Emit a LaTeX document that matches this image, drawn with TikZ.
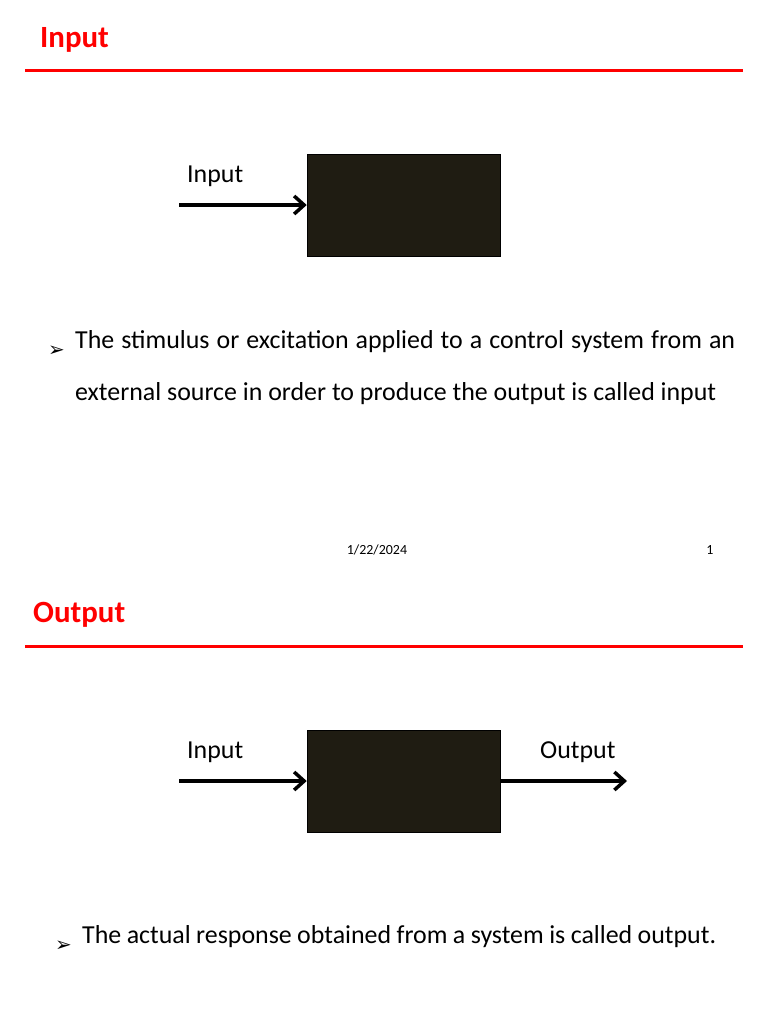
\documentclass[tikz,border=0pt]{standalone}
\usepackage{fontspec}
\setmainfont{Carlito}
\newfontfamily\symf{DejaVu Sans}
\usetikzlibrary{arrows.meta}
\definecolor{boxc}{HTML}{1F1C12}
\definecolor{titred}{HTML}{FF0000}
\tikzset{
  ttl/.style={anchor=base west,text=titred,font=\fontsize{31}{36}\selectfont\bfseries,inner sep=0},
  rule/.style={titred,line width=3bp},
  sysbox/.style={fill=boxc,draw=black,line width=0.5bp,minimum width=193bp,minimum height=102bp,inner sep=0},
  sig/.style={line width=3.5bp,-{Straight Barb[length=10bp,width=18bp,line width=3.5bp]}},
  lbl/.style={anchor=base west,font=\fontsize{26}{30}\selectfont,inner sep=0},
  body/.style={anchor=north west,inner sep=0,align=justify,font=\fontsize{26}{53}\selectfont},
  bul/.style={anchor=base west,inner sep=0,font=\symf\fontsize{20}{24}\selectfont},
  foot/.style={anchor=base,inner sep=0,font=\fontsize{14}{16}\selectfont}
}
\begin{document}
\begin{tikzpicture}[x=1bp,y=-1bp]
\useasboundingbox[fill=white] (0,0) rectangle (768,1024);
% slide 1
\node[ttl] (t1) at (40,47) {Input};
\coordinate (r1a) at (25,70); \coordinate (r1b) at (743,70);
\draw[rule] (r1a) -- (r1b);
\node[sysbox] (b1) at (403.5,205) {};
\coordinate (i1) at (179,205);
\draw[sig] (i1) -- (b1.west);
\node[lbl] (li1) at (187,182) {Input};
\node[bul] (bu1) at (48,356) {➢};
\node[body,text width=660bp] (tx1) at (75,330) {The stimulus or excitation applied to a control system from an external source in order to produce the output is called input\par};
\node[foot] (d1) at (377,554) {1/22/2024};
\node[foot] (p1) at (710,554) {1};
% slide 2
\node[ttl] (t2) at (33,622) {Output};
\coordinate (r2a) at (25,646); \coordinate (r2b) at (743,646);
\draw[rule] (r2a) -- (r2b);
\node[sysbox] (b2) at (403.5,781) {};
\coordinate (i2) at (179,781);
\coordinate (o2) at (627,781);
\draw[sig] (i2) -- (b2.west);
\draw[sig] (b2.east) -- (o2);
\node[lbl] (li2) at (187,758) {Input};
\node[lbl] (lo2) at (540,758) {Output};
\node[bul] (bu2) at (55,951) {➢};
\node[body,text width=634bp] (tx2) at (82,925) {The actual response obtained from a system is called output.\par};
\end{tikzpicture}
\end{document}
